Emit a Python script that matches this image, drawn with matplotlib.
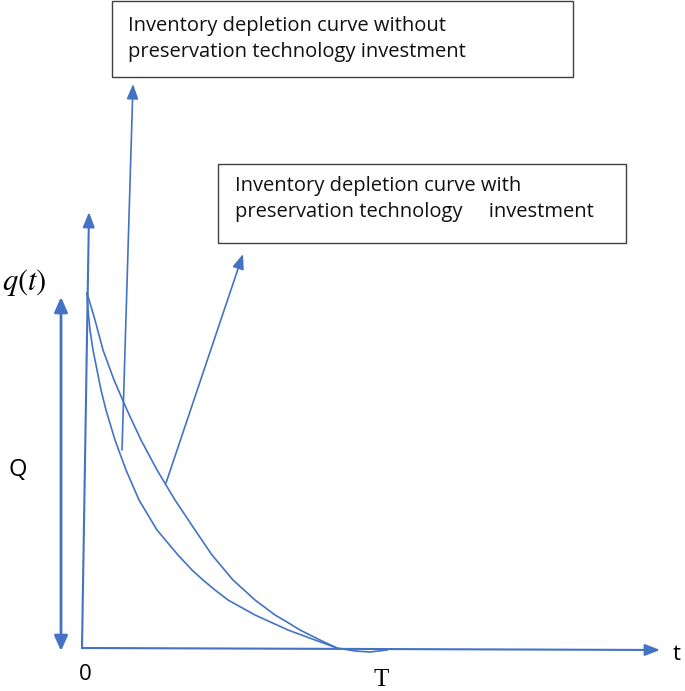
import matplotlib
matplotlib.use('Agg')
import matplotlib.pyplot as plt
from matplotlib.patches import Rectangle

# curve points (pixel coords, y downwards)
inner_x = [87, 88, 90, 93, 97, 101, 106, 115, 126, 139, 157, 178, 192, 203, 215, 228, 255, 288, 315, 337, 355, 370, 387]
inner_y = [293, 310, 330, 350, 370, 390, 410, 440, 470, 500, 530, 555, 570, 580, 590, 600, 615, 630, 640, 648, 651, 652, 650]

outer_x = [87, 95, 103, 114, 127, 141, 157, 175, 195, 212, 233, 244, 255, 275, 287, 300, 320, 337]
outer_y = [293, 320, 350, 380, 410, 440, 470, 500, 530, 555, 580, 590, 600, 615, 622, 630, 640, 648]

box_texts = ["Inventory depletion curve without\npreservation technology investment",
             "Inventory depletion curve with\npreservation technology     investment"]

blue = "#4472C4"

plt.rcParams['mathtext.fontset'] = 'stix'

fig = plt.figure(figsize=(6.85, 6.91), dpi=100)
ax = fig.add_axes([0, 0, 1, 1])
ax.set_xlim(0, 685)
ax.set_ylim(691, 0)
ax.axis('off')

ax.plot(inner_x, inner_y, color=blue, lw=1.2, solid_joinstyle='round')
ax.plot(outer_x, outer_y, color=blue, lw=1.2, solid_joinstyle='round')

head = dict(arrowstyle='-|>,head_length=0.9,head_width=0.35', color=blue, shrinkA=0, shrinkB=0)

# axes
ax.annotate('', xy=(89, 212), xytext=(82, 648), arrowprops=dict(head, lw=1.5))
ax.annotate('', xy=(660, 650), xytext=(82, 648), arrowprops=dict(head, lw=1.5))

# Q double arrow
ax.annotate('', xy=(61, 297), xytext=(61, 651),
            arrowprops=dict(arrowstyle='<|-|>,head_length=0.9,head_width=0.4', color=blue, lw=2,
                            shrinkA=0, shrinkB=0))

# pointer arrows
ax.annotate('', xy=(133, 84), xytext=(122, 450), arrowprops=dict(head, lw=1.2))
ax.annotate('', xy=(243, 254), xytext=(166, 483), arrowprops=dict(head, lw=1.2))

# boxes
ax.add_patch(Rectangle((112, 1), 461, 76, fill=False, ec="#404040", lw=1))
ax.add_patch(Rectangle((218, 164), 408, 79, fill=False, ec="#404040", lw=1))
ax.text(128, 39, box_texts[0], fontsize=14.5, family="Open Sans", va='center', ha='left',
        linespacing=1.35, color="#111111")
ax.text(235, 199, box_texts[1], fontsize=14.5, family="Open Sans", va='center', ha='left',
        linespacing=1.35, color="#111111")

# labels
ax.text(2, 282, r'$q(t)$', fontsize=22, va='center', ha='left')
ax.text(8, 470, 'Q', fontsize=17, family="Open Sans", va='center', ha='left')
ax.text(79, 674, '0', fontsize=16, family="Open Sans", va='center', ha='left')
ax.text(374, 680, 'T', fontsize=18, family="Liberation Serif", va='center', ha='left')
ax.text(673, 655, 't', fontsize=16, family="Open Sans", va='center', ha='left')

plt.savefig("out.png", dpi=100)
plt.close()
